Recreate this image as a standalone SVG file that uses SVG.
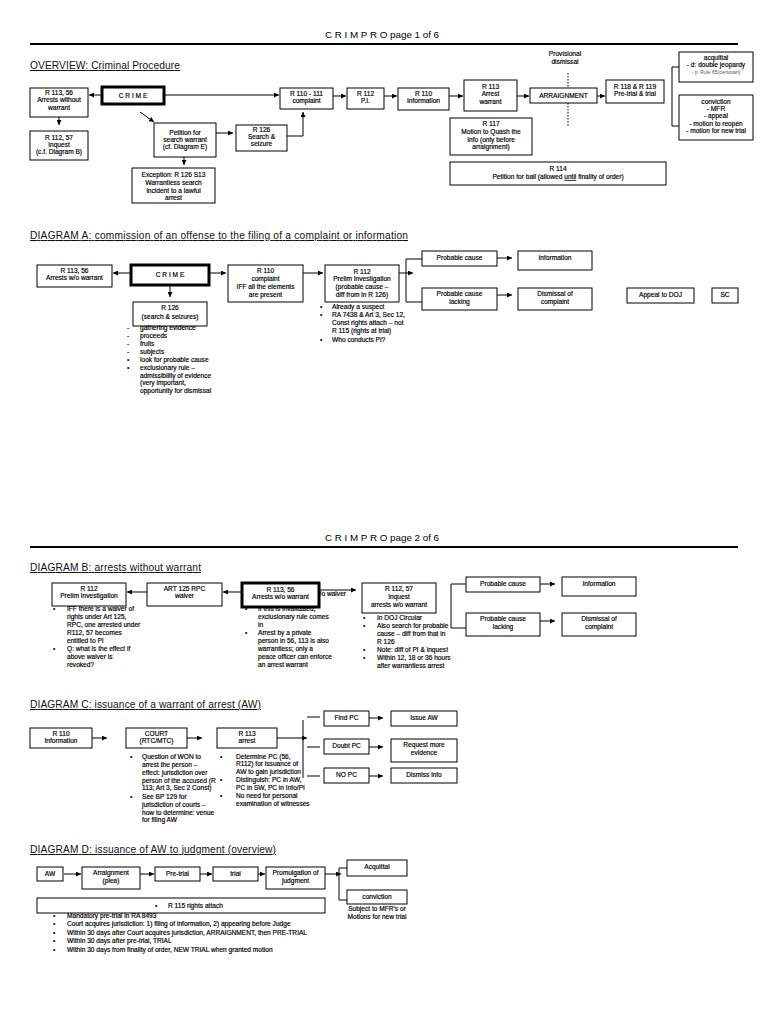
<svg xmlns="http://www.w3.org/2000/svg" width="768" height="1024" viewBox="0 0 768 1024">
<defs>
<style>
text{font-family:"Liberation Sans",Arial,sans-serif;font-size:6.6px;fill:#000;stroke:#000;stroke-width:0.18px}
.m{text-anchor:middle}
.h{font-size:10.2px;text-decoration:underline;stroke:none;fill:#111}
.hd{font-size:9.8px;text-anchor:middle;stroke:none}
.sm{font-size:5px;fill:#555;stroke:none}
.b{fill:#fff;stroke:#000;stroke-width:1}
.k{fill:#fff;stroke:#000;stroke-width:3}
.l{fill:none;stroke:#000;stroke-width:1}
.a{marker-end:url(#ah)}
.rule{stroke:#000;stroke-width:2}
</style>
<marker id="ah" viewBox="0 0 10 10" refX="10" refY="5" markerWidth="5" markerHeight="5" markerUnits="userSpaceOnUse" orient="auto"><path d="M0,0 L10,5 L0,10 z" fill="#000"/></marker>
</defs>
<rect width="768" height="1024" fill="#fff"/>

<!-- page 1 header -->
<text class="hd" x="382" y="38">C R I M P R O page 1 of 6</text>
<line class="rule" x1="30" y1="44" x2="738" y2="44"/>
<text class="h" x="30" y="69" textLength="150" lengthAdjust="spacing">OVERVIEW: Criminal Procedure</text>

<g id="connectors">
<!-- overview -->
<path class="l a" d="M102,95 H89"/>
<path class="l a" d="M164,95 H279"/>
<path class="l a" d="M59,117 V125"/>
<path class="l a" d="M140,112 L154,122"/>
<path class="l a" d="M184,157 V165"/>
<path class="l a" d="M216,133 H233"/>
<path class="l a" d="M287,136 H303 V112"/>
<path class="l a" d="M333,96 H346"/>
<path class="l a" d="M384,96 H397"/>
<path class="l a" d="M449,96 H463"/>
<path class="l a" d="M517,96 H529"/>
<path class="l a" d="M597,96 H605"/>
<path class="l" d="M568,73 V127" stroke-dasharray="1.5 1.5" stroke-width="1.2"/>
<path class="l" d="M679,67 H672 V126 H679"/>
<!-- diagram A -->
<path class="l a" d="M131,273 H113"/>
<path class="l a" d="M209,273 H226"/>
<path class="l a" d="M170,285 V297"/>
<path class="l a" d="M303,273 H323"/>
<path class="l a" d="M399,273 H413"/>
<path class="l" d="M422,259 H406 V302 H422"/>
<path class="l a" d="M497,258 H512"/>
<path class="l a" d="M497,295 H512"/>
<!-- diagram B -->
<path class="l a" d="M147,592 H127"/>
<path class="l a" d="M242,592 H223"/>
<path class="l a" d="M319,590 H356"/>
<path class="l" d="M466,584 H451 V628 H466"/>
<path class="l a" d="M540,584 H555"/>
<path class="l a" d="M540,621 H555"/>
<!-- diagram C -->
<path class="l a" d="M92,738 H107"/>
<path class="l a" d="M187,738 H202"/>
<path class="l a" d="M277,738 H307"/>
<path class="l" d="M303,720 V778"/>
<path class="l" d="M307,717 H320 M307,747 H320 M307,776 H320"/>
<path class="l a" d="M369,718 H383"/>
<path class="l a" d="M369,747 H383"/>
<path class="l a" d="M369,776 H383"/>
<!-- diagram D -->
<path class="l a" d="M64,874 H81"/>
<path class="l a" d="M140,874 H154"/>
<path class="l a" d="M200,874 H212"/>
<path class="l a" d="M258,874 H265"/>
<path class="l a" d="M325,874 H341"/>
<path class="l" d="M347,868 H339 V900 H347"/>
</g>

<!-- OVERVIEW nodes -->
<g id="ov-r113"><rect class="b" x="30" y="88" width="58" height="29"/><text class="m"><tspan x="59" y="95">R 113, 56</tspan><tspan x="59" y="102">Arrests without</tspan><tspan x="59" y="110">warrant</tspan></text></g>
<g id="ov-crime"><rect class="k" x="102" y="87" width="62" height="17"/><text class="m" x="133" y="98">C R I M E</text></g>
<g id="ov-r112"><rect class="b" x="30" y="131" width="58" height="29"/><text class="m"><tspan x="59" y="140">R 112, 57</tspan><tspan x="59" y="147">Inquest</tspan><tspan x="59" y="154">(c.f. Diagram B)</tspan></text></g>
<g id="ov-petition"><rect class="b" x="154" y="123" width="62" height="34"/><text class="m"><tspan x="185" y="135">Petition for</tspan><tspan x="185" y="142">search warrant</tspan><tspan x="185" y="149">(cf. Diagram E)</tspan></text></g>
<g id="ov-exception"><rect class="b" x="132" y="168" width="83" height="35"/><text class="m"><tspan x="173.5" y="177">Exception: R 126 S13</tspan><tspan x="173.5" y="185">Warrantless search</tspan><tspan x="173.5" y="193">incident to a lawful</tspan><tspan x="173.5" y="200">arrest</tspan></text></g>
<g id="ov-r126"><rect class="b" x="236" y="125" width="51" height="26"/><text class="m"><tspan x="261.5" y="132">R 126</tspan><tspan x="261.5" y="139">Search &amp;</tspan><tspan x="261.5" y="146">seizure</tspan></text></g>
<g id="ov-complaint"><rect class="b" x="280" y="88" width="53" height="21"/><text class="m"><tspan x="306.5" y="96">R 110 - 111</tspan><tspan x="306.5" y="103">complaint</tspan></text></g>
<g id="ov-pi"><rect class="b" x="347" y="88" width="37" height="21"/><text class="m"><tspan x="365.5" y="96">R 112</tspan><tspan x="365.5" y="103">P.I.</tspan></text></g>
<g id="ov-info"><rect class="b" x="398" y="88" width="51" height="22"/><text class="m"><tspan x="423.5" y="96">R 110</tspan><tspan x="423.5" y="103">Information</tspan></text></g>
<g id="ov-aw"><rect class="b" x="464" y="80" width="53" height="31" stroke-width="1.3"/><text class="m"><tspan x="490.5" y="89">R 113</tspan><tspan x="490.5" y="96">Arrest</tspan><tspan x="490.5" y="104">warrant</tspan></text></g>
<g id="ov-arraignment"><rect class="b" x="530" y="88" width="67" height="15"/><text class="m" x="563.5" y="98">ARRAIGNMENT</text></g>
<g id="ov-pretrial"><rect class="b" x="606" y="80" width="58" height="23"/><text class="m"><tspan x="635" y="89">R 118 &amp; R 119</tspan><tspan x="635" y="96">Pre-trial &amp; trial</tspan></text></g>
<g id="ov-provisional"><text class="m"><tspan x="565" y="56">Provisional</tspan><tspan x="565" y="64">dismissal</tspan></text></g>
<g id="ov-r117"><rect class="b" x="450" y="118" width="82" height="37"/><text class="m"><tspan x="491" y="126">R 117</tspan><tspan x="491" y="134">Motion to Quash the</tspan><tspan x="491" y="142">Info (only before</tspan><tspan x="491" y="149">arraignment)</tspan></text></g>
<g id="ov-r114"><rect class="b" x="450" y="162" width="216" height="23" stroke-width="1.6"/><text class="m"><tspan x="558" y="171">R 114</tspan><tspan x="558" y="179">Petition for bail (allowed <tspan text-decoration="underline">until</tspan> finality of order)</tspan></text></g>
<g id="ov-acquittal"><rect class="b" x="679" y="52" width="74" height="30"/><text class="m"><tspan x="716" y="60">acquittal</tspan><tspan x="716" y="67">- d: double jeopardy</tspan></text><text class="m sm" x="716" y="74">- p: Rule 65(certiorari)</text></g>
<g id="ov-conviction"><rect class="b" x="679" y="95" width="74" height="45"/><text class="m"><tspan x="716" y="104">conviction</tspan><tspan x="716" y="111">- MFR</tspan><tspan x="716" y="118">- appeal</tspan><tspan x="716" y="126">- motion to reopen</tspan><tspan x="716" y="133">- motion for new trial</tspan></text></g>

<!-- DIAGRAM A -->
<text class="h" x="30" y="239" textLength="378" lengthAdjust="spacing">DIAGRAM A: commission of an offense to the filing of a complaint or information</text>
<g id="a-r113"><rect class="b" x="37" y="265" width="75" height="22"/><text class="m"><tspan x="74.5" y="273">R 113, 56</tspan><tspan x="74.5" y="280">Arrests w/o warrant</tspan></text></g>
<g id="a-crime"><rect class="k" x="131" y="265" width="78" height="20"/><text class="m" x="170" y="277">C R I M E</text></g>
<g id="a-r126"><rect class="b" x="133" y="302" width="74" height="24"/><text class="m"><tspan x="170" y="310">R 126</tspan><tspan x="170" y="319">(search &amp; seizures)</tspan></text></g>
<g id="a-r126-notes"><text><tspan x="127" y="330">-</tspan><tspan x="127" y="338">-</tspan><tspan x="127" y="346">-</tspan><tspan x="127" y="354">-</tspan><tspan x="127" y="362">•</tspan><tspan x="127" y="370">•</tspan></text>
<text><tspan x="140" y="330">gathering evidence</tspan><tspan x="140" y="338">proceeds</tspan><tspan x="140" y="346">fruits</tspan><tspan x="140" y="354">subjects</tspan><tspan x="140" y="362">look for probable cause</tspan><tspan x="140" y="370">exclusionary rule –</tspan><tspan x="140" y="378">admissibility of evidence</tspan><tspan x="140" y="385">(very important,</tspan><tspan x="140" y="393">opportunity for dismissal</tspan></text></g>
<g id="a-complaint"><rect class="b" x="228" y="265" width="75" height="37"/><text class="m"><tspan x="265.5" y="273">R 110</tspan><tspan x="265.5" y="281">complaint</tspan><tspan x="265.5" y="289">IFF all the elements</tspan><tspan x="265.5" y="297">are present</tspan></text></g>
<g id="a-r112"><rect class="b" x="325" y="265" width="74" height="37"/><text class="m"><tspan x="362" y="274">R 112</tspan><tspan x="362" y="281">Prelim Investigation</tspan><tspan x="362" y="289">(probable cause –</tspan><tspan x="362" y="297">diff from in R 126)</tspan></text></g>
<g id="a-r112-notes"><text><tspan x="320" y="309">•</tspan><tspan x="320" y="317">•</tspan><tspan x="320" y="342">•</tspan></text>
<text><tspan x="332" y="309">Already a suspect</tspan><tspan x="332" y="317">RA 7438 &amp; Art 3, Sec 12,</tspan><tspan x="332" y="325">Const rights attach – not</tspan><tspan x="332" y="333">R 115 (rights at trial)</tspan><tspan x="332" y="342">Who conducts PI?</tspan></text></g>
<g id="a-pc"><rect class="b" x="422" y="251" width="75" height="15"/><text class="m" x="459.5" y="260">Probable cause</text></g>
<g id="a-info"><rect class="b" x="518" y="251" width="74" height="19"/><text class="m" x="555" y="260">Information</text></g>
<g id="a-pcl"><rect class="b" x="422" y="288" width="75" height="22"/><text class="m"><tspan x="459.5" y="296">Probable cause</tspan><tspan x="459.5" y="304">lacking</tspan></text></g>
<g id="a-dismissal"><rect class="b" x="518" y="288" width="74" height="22"/><text class="m"><tspan x="555" y="296">Dismissal of</tspan><tspan x="555" y="304">complaint</tspan></text></g>
<g id="a-doj"><rect class="b" x="627" y="288" width="67" height="15"/><text class="m" x="660.5" y="297">Appeal to DOJ</text></g>
<g id="a-sc"><rect class="b" x="712" y="288" width="26" height="15"/><text class="m" x="725" y="297">SC</text></g>

<!-- page 2 header -->
<text class="hd" x="382" y="541">C R I M P R O page 2 of 6</text>
<line class="rule" x1="30" y1="547" x2="738" y2="547"/>

<!-- DIAGRAM B -->
<text class="h" x="30" y="571" textLength="171" lengthAdjust="spacing">DIAGRAM B: arrests without warrant</text>
<g id="b-r112"><rect class="b" x="52" y="583" width="74" height="23"/><text class="m"><tspan x="89" y="591">R 112</tspan><tspan x="89" y="598">Prelim Investigation</tspan></text></g>
<g id="b-r112-notes"><text><tspan x="53" y="611">•</tspan><tspan x="53" y="651">•</tspan></text>
<text><tspan x="67" y="611">IFF there is a waiver of</tspan><tspan x="67" y="619">rights under Art 125,</tspan><tspan x="67" y="627">RPC, one arrested under</tspan><tspan x="67" y="635">R112, 57 becomes</tspan><tspan x="67" y="643">entitled to PI</tspan><tspan x="67" y="651">Q: what is the effect if</tspan><tspan x="67" y="659">above waiver is</tspan><tspan x="67" y="667">revoked?</tspan></text></g>
<g id="b-art125"><rect class="b" x="147" y="583" width="75" height="23"/><text class="m"><tspan x="184.5" y="591">ART 125 RPC</tspan><tspan x="184.5" y="598">waiver</tspan></text></g>
<text x="346" y="596" text-anchor="end">w/o waiver</text>
<g id="b-r113"><rect class="k" x="242" y="583" width="77" height="24"/><text class="m"><tspan x="280.5" y="592">R 113, 56</tspan><tspan x="280.5" y="599">Arrests w/o warrant</tspan></text></g>
<g id="b-r113-notes"><text><tspan x="245" y="611">•</tspan><tspan x="245" y="635">•</tspan></text>
<text><tspan x="258" y="611">If this is invalidated,</tspan><tspan x="258" y="619">exclusionary rule comes</tspan><tspan x="258" y="627">in</tspan><tspan x="258" y="635">Arrest by a private</tspan><tspan x="258" y="643">person in 56, 113 is also</tspan><tspan x="258" y="651">warrantless; only a</tspan><tspan x="258" y="659">peace officer can enforce</tspan><tspan x="258" y="667">an arrest warrant</tspan></text></g>
<g id="b-inquest"><rect class="b" x="362" y="583" width="74" height="30"/><text class="m"><tspan x="399" y="591">R 112, 57</tspan><tspan x="399" y="599">Inquest</tspan><tspan x="399" y="607">arrests w/o warrant</tspan></text></g>
<g id="b-inquest-notes"><text><tspan x="363" y="620">•</tspan><tspan x="363" y="628">•</tspan><tspan x="363" y="652">•</tspan><tspan x="363" y="660">•</tspan></text>
<text><tspan x="377" y="620">In DOJ Circular</tspan><tspan x="377" y="628">Also search for probable</tspan><tspan x="377" y="636">cause – diff from that in</tspan><tspan x="377" y="644">R 126</tspan><tspan x="377" y="652">Note: diff of PI &amp; inquest</tspan><tspan x="377" y="660">Within 12, 18 or 36 hours</tspan><tspan x="377" y="668">after warrantless arrest</tspan></text></g>
<g id="b-pc"><rect class="b" x="466" y="577" width="74" height="15"/><text class="m" x="503" y="586">Probable cause</text></g>
<g id="b-info"><rect class="b" x="562" y="577" width="74" height="19"/><text class="m" x="599" y="586">Information</text></g>
<g id="b-pcl"><rect class="b" x="466" y="613" width="74" height="23"/><text class="m"><tspan x="503" y="621">Probable cause</tspan><tspan x="503" y="629">lacking</tspan></text></g>
<g id="b-dismissal"><rect class="b" x="562" y="613" width="74" height="23"/><text class="m"><tspan x="599" y="621">Dismissal of</tspan><tspan x="599" y="629">complaint</tspan></text></g>

<!-- DIAGRAM C -->
<text class="h" x="30" y="708" textLength="231" lengthAdjust="spacing">DIAGRAM C: issuance of a warrant of arrest (AW)</text>
<g id="c-r110"><rect class="b" x="30" y="728" width="62" height="20"/><text class="m"><tspan x="61" y="736">R 110</tspan><tspan x="61" y="743">Information</tspan></text></g>
<g id="c-court"><rect class="b" x="126" y="728" width="61" height="20"/><text class="m"><tspan x="156.5" y="736">COURT</tspan><tspan x="156.5" y="743">(RTC/MTC)</tspan></text></g>
<g id="c-court-notes"><text><tspan x="130" y="759">•</tspan><tspan x="130" y="799">•</tspan></text>
<text><tspan x="142" y="759">Question of WON to</tspan><tspan x="142" y="767">arrest the person –</tspan><tspan x="142" y="775">effect: jurisdiction over</tspan><tspan x="142" y="783">person of the accused (R</tspan><tspan x="142" y="790">113; Art 3, Sec 2 Const)</tspan><tspan x="142" y="799">See BP 129 for</tspan><tspan x="142" y="807">jurisdiction of courts –</tspan><tspan x="142" y="815">how to determine: venue</tspan><tspan x="142" y="822">for filing AW</tspan></text></g>
<g id="c-r113"><rect class="b" x="217" y="728" width="60" height="20"/><text class="m"><tspan x="247" y="736">R 113</tspan><tspan x="247" y="743">arrest</tspan></text></g>
<g id="c-r113-notes"><text><tspan x="220" y="759">•</tspan><tspan x="220" y="782">•</tspan><tspan x="220" y="798">•</tspan></text>
<text><tspan x="236" y="759">Determine PC (56,</tspan><tspan x="236" y="766">R112) for issuance of</tspan><tspan x="236" y="774">AW to gain jurisdiction</tspan><tspan x="236" y="782">Distinguish: PC in AW,</tspan><tspan x="236" y="790">PC in SW, PC in Info/PI</tspan><tspan x="236" y="798">No need for personal</tspan><tspan x="236" y="806">examination of witnesses</tspan></text></g>
<g id="c-find"><rect class="b" x="324" y="711" width="45" height="15"/><text class="m" x="346.5" y="720">Find PC</text></g>
<g id="c-issue"><rect class="b" x="391" y="711" width="66" height="15"/><text class="m" x="424" y="720">Issue AW</text></g>
<g id="c-doubt"><rect class="b" x="324" y="739" width="45" height="15"/><text class="m" x="346.5" y="748">Doubt PC</text></g>
<g id="c-request"><rect class="b" x="391" y="739" width="66" height="23"/><text class="m"><tspan x="424" y="747">Request more</tspan><tspan x="424" y="755">evidence</tspan></text></g>
<g id="c-nopc"><rect class="b" x="324" y="768" width="45" height="15"/><text class="m" x="346.5" y="777">NO PC</text></g>
<g id="c-dismiss"><rect class="b" x="391" y="768" width="66" height="15"/><text class="m" x="424" y="777">Dismiss info</text></g>

<!-- DIAGRAM D -->
<text class="h" x="30" y="853" textLength="246" lengthAdjust="spacing">DIAGRAM D: issuance of AW to judgment (overview)</text>
<g id="d-aw"><rect class="b" x="37" y="867" width="26" height="14"/><text class="m" x="50" y="876">AW</text></g>
<g id="d-arraignment"><rect class="b" x="82" y="867" width="58" height="22"/><text class="m"><tspan x="111" y="875">Arraignment</tspan><tspan x="111" y="883">(plea)</tspan></text></g>
<g id="d-pretrial"><rect class="b" x="155" y="867" width="45" height="14"/><text class="m" x="177.5" y="876">Pre-trial</text></g>
<g id="d-trial"><rect class="b" x="213" y="867" width="45" height="14"/><text class="m" x="235.5" y="876">trial</text></g>
<g id="d-promulgation"><rect class="b" x="266" y="867" width="59" height="22"/><text class="m"><tspan x="295.5" y="875">Promulgation of</tspan><tspan x="295.5" y="883">judgment</tspan></text></g>
<g id="d-acquittal"><rect class="b" x="347" y="860" width="60" height="16"/><text class="m" x="377" y="869">Acquittal</text></g>
<g id="d-conviction"><rect class="b" x="347" y="890" width="60" height="14"/><text class="m" x="377" y="899">conviction</text><text class="m"><tspan x="377" y="911">Subject to MFR's or</tspan><tspan x="377" y="919">Motions for new trial</tspan></text></g>
<g id="d-rights"><rect class="b" x="37" y="898" width="288" height="15"/><text x="155" y="908">•</text><text x="168" y="908">R 115 rights attach</text></g>
<g id="d-notes"><text><tspan x="53" y="918">•</tspan><tspan x="53" y="926">•</tspan><tspan x="53" y="935">•</tspan><tspan x="53" y="943">•</tspan><tspan x="53" y="952">•</tspan></text>
<text><tspan x="67" y="918">Mandatory pre-trial in RA 8493</tspan><tspan x="67" y="926">Court acquires jurisdiction: 1) filing of information, 2) appearing before Judge</tspan><tspan x="67" y="935">Within 30 days after Court acquires jurisdiction, ARRAIGNMENT, then PRE-TRIAL</tspan><tspan x="67" y="943">Within 30 days after pre-trial, TRIAL</tspan><tspan x="67" y="952">Within 30 days from finality of order, NEW TRIAL when granted motion</tspan></text></g>
</svg>
